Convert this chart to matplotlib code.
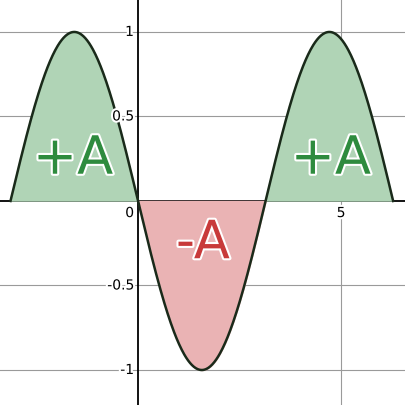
import numpy as np
import matplotlib
matplotlib.use("Agg")
import matplotlib.pyplot as plt
import matplotlib.patheffects as pe

amplitude = 1.0
x_start, x_end = -np.pi, 2 * np.pi
y_ticks = [-1, -0.5, 0.5, 1]
y_tick_labels = ["-1", "-0.5", "0.5", "1"]
x_ticks = [5]
x_tick_labels = ["5"]
area_labels = [("+A", -1.6, 0.25, "pos"), ("-A", 1.6, -0.25, "neg"), ("+A", 4.75, 0.25, "pos")]

x = np.linspace(x_start, x_end, 600)
y = -amplitude * np.sin(x)

fig = plt.figure(figsize=(4.06, 4.06), dpi=100)
ax = fig.add_axes([0, 0, 1, 1])
ax.set_xlim(-3.4, 6.6)
ax.set_ylim(-1.207, 1.195)
ax.axis("off")

for v in y_ticks:
    ax.axhline(v, color="#9a9a9a", lw=0.8, zorder=0)
for v in x_ticks:
    ax.axvline(v, color="#9a9a9a", lw=0.8, zorder=0)
ax.axhline(0, color="black", lw=1.3, zorder=1)
ax.axvline(0, color="black", lw=1.3, zorder=1)

ax.fill_between(x, y, 0, where=y >= 0, color="#b0d4b6", zorder=2, interpolate=True)
ax.fill_between(x, y, 0, where=y <= 0, color="#eab3b4", zorder=2, interpolate=True)
ax.plot(x, y, color="#1a2a1a", lw=1.8, zorder=3)

outline = [pe.withStroke(linewidth=3, foreground="white")]
for v, t in zip(y_ticks, y_tick_labels):
    ax.text(-0.1, v, t, ha="right", va="center", fontsize=10, path_effects=outline, zorder=5)
ax.text(-0.1, -0.03, "0", ha="right", va="top", fontsize=10, path_effects=outline, zorder=5)
for v, t in zip(x_ticks, x_tick_labels):
    ax.text(v, -0.03, t, ha="center", va="top", fontsize=10, path_effects=outline, zorder=5)

colors = {"pos": "#2e8b3e", "neg": "#c83a3a"}
for t, xx, yy, k in area_labels:
    ax.text(xx, yy, t, ha="center", va="center", fontsize=38, color=colors[k],
            path_effects=[pe.withStroke(linewidth=3, foreground="white")], zorder=6)

fig.savefig("out.png", dpi=100)
